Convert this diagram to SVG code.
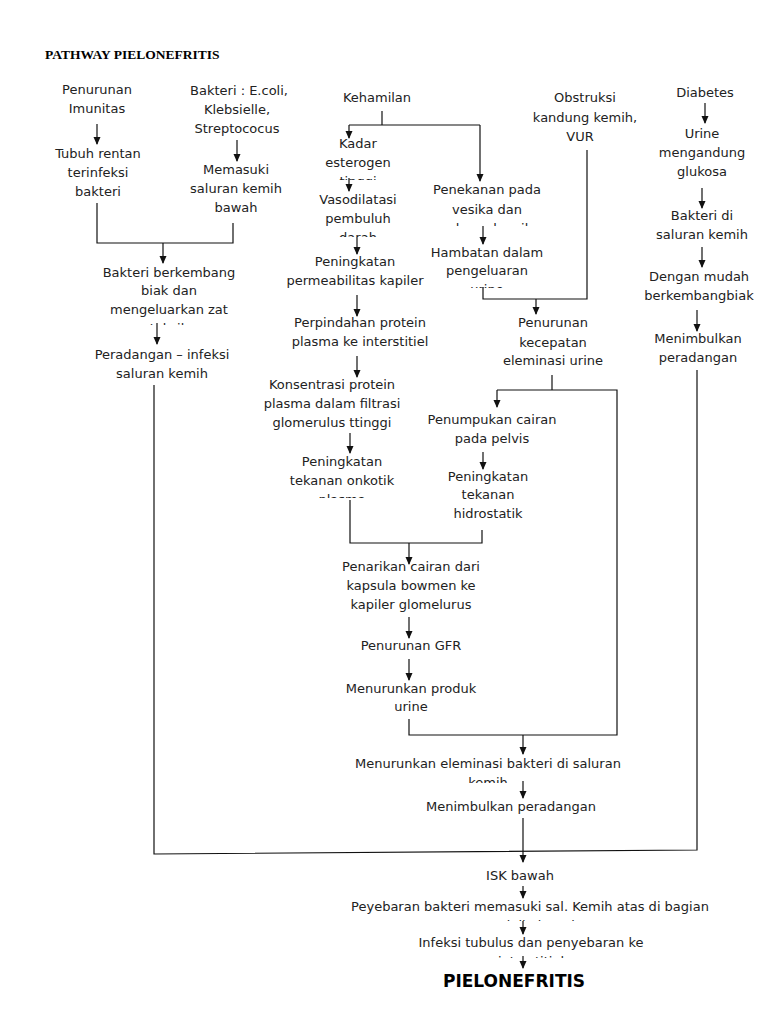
<svg xmlns="http://www.w3.org/2000/svg" width="768" height="1024" viewBox="0 0 768 1024">
<style>
text{font-family:"DejaVu Sans",sans-serif;font-size:13px;fill:#222;text-anchor:middle}
.t{font-family:"Liberation Serif",serif;font-weight:bold;font-size:13.5px;text-anchor:start;fill:#000}
.b{font-weight:bold;font-size:17px;fill:#000}
line,polyline{stroke:#111;stroke-width:1.2;fill:none}
.a{marker-end:url(#ah)}
</style>
<defs>
<marker id="ah" markerWidth="8" markerHeight="8" refX="7" refY="4" orient="auto" markerUnits="userSpaceOnUse"><path d="M0,0.5L8,4L0,7.5z" fill="#111"/></marker>
<clipPath id="c1"><rect x="0" y="0" width="768" height="325"/></clipPath>
<clipPath id="c2"><rect x="0" y="0" width="768" height="180"/></clipPath>
<clipPath id="c3"><rect x="0" y="0" width="768" height="237"/></clipPath>
<clipPath id="c4"><rect x="0" y="0" width="768" height="498"/></clipPath>
<clipPath id="c5"><rect x="0" y="0" width="768" height="226"/></clipPath>
<clipPath id="c6"><rect x="0" y="0" width="768" height="288"/></clipPath>
<clipPath id="c7"><rect x="0" y="0" width="768" height="783"/></clipPath>
<clipPath id="c8"><rect x="0" y="0" width="768" height="921"/></clipPath>
<clipPath id="c9"><rect x="0" y="0" width="768" height="958"/></clipPath>
</defs>
<rect width="768" height="1024" fill="#fff"/>
<text class="t" x="45" y="59">PATHWAY PIELONEFRITIS</text>
<g id="connectors">
<line class="a" x1="97" y1="124" x2="97" y2="144"/>
<line class="a" x1="237" y1="140" x2="237" y2="161"/>
<polyline points="97,203 97,243 233,243 233,223"/>
<line class="a" x1="163" y1="243" x2="163" y2="263"/>
<line class="a" x1="157" y1="323" x2="157" y2="344"/>
<polyline points="154,385 154,854 697,850 697,370"/>
<line x1="382" y1="111" x2="382" y2="125"/>
<polyline points="349,125 480,125"/>
<line class="a" x1="349" y1="125" x2="349" y2="138"/>
<line class="a" x1="480" y1="125" x2="480" y2="181"/>
<line class="a" x1="349" y1="178" x2="349" y2="191"/>
<line class="a" x1="357" y1="237" x2="357" y2="254"/>
<line class="a" x1="357" y1="295" x2="357" y2="316"/>
<line class="a" x1="357" y1="356" x2="357" y2="377"/>
<line class="a" x1="350" y1="433" x2="350" y2="453"/>
<polyline points="350,500 350,543 482,543 482,530"/>
<line class="a" x1="409" y1="543" x2="409" y2="564"/>
<line class="a" x1="409" y1="617" x2="409" y2="638"/>
<line class="a" x1="409" y1="659" x2="409" y2="680"/>
<polyline points="409,719 409,735 617,735 617,390 497,390"/>
<line x1="552" y1="375" x2="552" y2="390"/>
<line class="a" x1="497" y1="390" x2="497" y2="407"/>
<line class="a" x1="483" y1="452" x2="483" y2="469"/>
<line class="a" x1="483" y1="226" x2="483" y2="244"/>
<polyline points="483,288 483,299 587,299 587,150"/>
<line class="a" x1="536" y1="299" x2="536" y2="314"/>
<line class="a" x1="523" y1="735" x2="523" y2="754"/>
<line class="a" x1="523" y1="781" x2="523" y2="798"/>
<line class="a" x1="523" y1="818" x2="523" y2="862"/>
<line class="a" x1="523" y1="886" x2="523" y2="898"/>
<line class="a" x1="523" y1="921" x2="523" y2="934"/>
<line class="a" x1="523" y1="956" x2="523" y2="968"/>
<line class="a" x1="705" y1="103" x2="705" y2="123"/>
<line class="a" x1="702" y1="188" x2="702" y2="208"/>
<line class="a" x1="702" y1="247" x2="702" y2="267"/>
<line class="a" x1="697" y1="310" x2="697" y2="331"/>
</g>
<g id="n1"><text x="97" y="94">Penurunan</text><text x="97" y="113">Imunitas</text></g>
<g id="n2"><text x="98" y="158">Tubuh rentan</text><text x="98" y="177">terinfeksi</text><text x="98" y="196">bakteri</text></g>
<g id="n3"><text x="239" y="95">Bakteri : E.coli,</text><text x="237" y="114">Klebsielle,</text><text x="237" y="133">Streptococus</text></g>
<g id="n4"><text x="236" y="174">Memasuki</text><text x="236" y="193">saluran kemih</text><text x="236" y="212">bawah</text></g>
<g id="n5"><text x="169" y="277">Bakteri berkembang</text><text x="169" y="295">biak dan</text><text x="169" y="314">mengeluarkan zat</text><text x="169" y="333" clip-path="url(#c1)">toksik</text></g>
<g id="n6"><text x="162" y="359">Peradangan – infeksi</text><text x="162" y="378">saluran kemih</text></g>
<g id="n7"><text x="377" y="102">Kehamilan</text></g>
<g id="n8"><text x="358" y="148">Kadar</text><text x="358" y="167">esterogen</text><text x="358" y="186" clip-path="url(#c2)">tinggi</text></g>
<g id="n9"><text x="358" y="204">Vasodilatasi</text><text x="358" y="223">pembuluh</text><text x="358" y="242" clip-path="url(#c3)">darah</text></g>
<g id="n10"><text x="355" y="266">Peningkatan</text><text x="355" y="285">permeabilitas kapiler</text></g>
<g id="n11"><text x="360" y="327">Perpindahan protein</text><text x="360" y="346">plasma ke interstitiel</text></g>
<g id="n12"><text x="332" y="389">Konsentrasi protein</text><text x="332" y="408">plasma dalam filtrasi</text><text x="332" y="427">glomerulus  ttinggi</text></g>
<g id="n13"><text x="342" y="466">Peningkatan</text><text x="342" y="485">tekanan onkotik</text><text x="342" y="504" clip-path="url(#c4)">plasma</text></g>
<g id="n14"><text x="487" y="194">Penekanan pada</text><text x="487" y="214">vesika dan</text><text x="487" y="233" clip-path="url(#c5)">saluran kemih</text></g>
<g id="n15"><text x="487" y="257">Hambatan dalam</text><text x="487" y="275">pengeluaran</text><text x="487" y="294" clip-path="url(#c6)">urine</text></g>
<g id="n16"><text x="585" y="102">Obstruksi</text><text x="585" y="122">kandung kemih,</text><text x="580" y="141">VUR</text></g>
<g id="n17"><text x="553" y="327">Penurunan</text><text x="553" y="347">kecepatan</text><text x="553" y="365">eleminasi urine</text></g>
<g id="n18"><text x="492" y="424">Penumpukan cairan</text><text x="492" y="443">pada pelvis</text></g>
<g id="n19"><text x="488" y="481">Peningkatan</text><text x="488" y="499">tekanan</text><text x="488" y="518">hidrostatik</text></g>
<g id="n20"><text x="411" y="571">Penarikan cairan dari</text><text x="411" y="590">kapsula bowmen ke</text><text x="411" y="609">kapiler glomelurus</text></g>
<g id="n21"><text x="411" y="650">Penurunan GFR</text></g>
<g id="n22"><text x="411" y="693">Menurunkan produk</text><text x="411" y="711">urine</text></g>
<g id="n23"><text x="488" y="768">Menurunkan eleminasi bakteri di saluran</text><text x="488" y="787" clip-path="url(#c7)">kemih</text></g>
<g id="n24"><text x="511" y="811">Menimbulkan peradangan</text></g>
<g id="n25"><text x="520" y="880">ISK bawah</text></g>
<g id="n26"><text x="530" y="911">Peyebaran bakteri memasuki sal. Kemih atas di bagian</text><text x="530" y="930" clip-path="url(#c8)">medulla kortek</text></g>
<g id="n27"><text x="531" y="947">Infeksi tubulus dan penyebaran ke</text><text x="531" y="966" clip-path="url(#c9)">interstitiel</text></g>
<g id="n28"><text class="b" x="514" y="987">PIELONEFRITIS</text></g>
<g id="n29"><text x="705" y="97">Diabetes</text></g>
<g id="n30"><text x="702" y="138">Urine</text><text x="702" y="157">mengandung</text><text x="702" y="176">glukosa</text></g>
<g id="n31"><text x="702" y="220">Bakteri di</text><text x="702" y="239">saluran kemih</text></g>
<g id="n32"><text x="699" y="281">Dengan mudah</text><text x="699" y="300">berkembangbiak</text></g>
<g id="n33"><text x="698" y="343">Menimbulkan</text><text x="698" y="362">peradangan</text></g>
</svg>
